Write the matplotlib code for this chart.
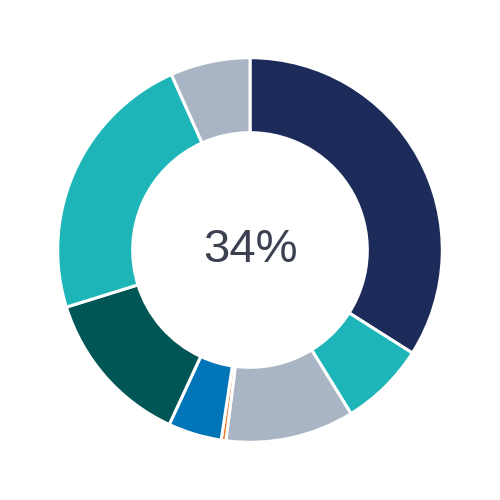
import matplotlib
matplotlib.use("Agg")
import matplotlib.pyplot as plt

# slices clockwise from 12 o'clock
shares = [34.0, 7.2, 10.8, 0.4, 4.5, 13.3, 23.1, 6.7]
colors = ['#1c2b5a', '#1db5b8', '#a9b4c4', '#e87722', '#0075b8', '#005555', '#1db5b8', '#a9b4c4']
center_label = '34%'

fig = plt.figure(figsize=(5, 5), dpi=100)
ax = fig.add_axes([0, 0, 1, 1])

ax.pie(shares, colors=colors, startangle=90, counterclock=False,
       radius=1.0,
       wedgeprops=dict(width=0.39, edgecolor='white', linewidth=2.2))

ax.text(0, 0, center_label, ha='center', va='center', fontsize=34,
        color='#3b4150', family=['Liberation Sans', 'DejaVu Sans'])

ax.set_xlim(-1.3, 1.3)
ax.set_ylim(-1.3, 1.3)
ax.set_aspect('equal')
ax.axis('off')

fig.savefig('out.png', dpi=100, facecolor='white')
